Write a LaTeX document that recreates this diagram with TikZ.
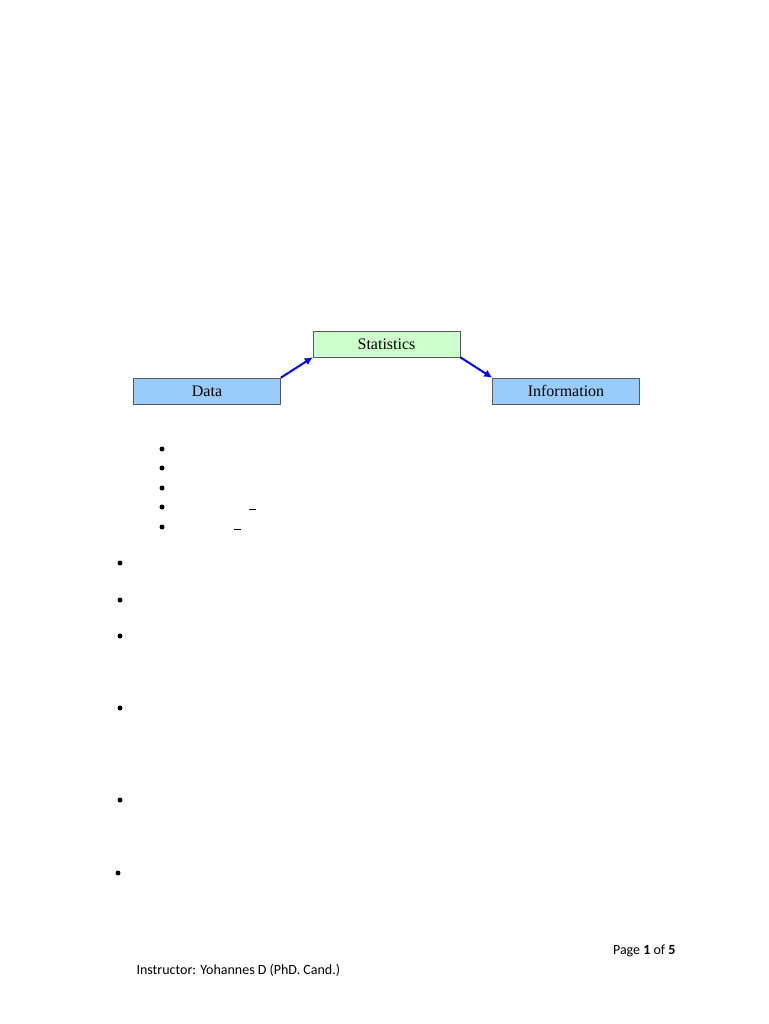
\documentclass[tikz,border=0pt]{standalone}
\usepackage{fontspec}
\usetikzlibrary{arrows.meta}
\setmainfont{Liberation Serif}
\newfontfamily\calfont{Carlito}
\definecolor{boxblue}{RGB}{153,204,250}
\definecolor{boxgreen}{RGB}{204,255,204}
\begin{document}
\begin{tikzpicture}[x=1pt,y=-1pt,
 box/.style={draw=gray!70!black,line width=0.6pt,minimum width=147pt,minimum height=26pt,inner sep=0pt,font=\fontsize{16}{18}\selectfont},
 arr/.style={blue,line width=2pt,-{Latex[length=8pt,width=8pt]}},
 dot/.style={circle,fill=black,inner sep=0pt,minimum size=5pt}]
\useasboundingbox[fill=white] (0,0) rectangle (768,1024);
\node[box,fill=boxblue] (data) at (207,391) {Data};
\node[box,fill=boxgreen] (stat) at (386.5,344) {Statistics};
\node[box,fill=boxblue] (info) at (566,391) {Information};
\draw[arr] (data.north east) -- (stat.south west);
\draw[arr] (stat.south east) -- (info.north west);
\foreach \y [count=\i] in {449,468,488,507,527} \node[dot] (s\i) at (162,\y) {};
\draw[line width=1pt] (249,509) -- (256,509);
\draw[line width=1pt] (234,529) -- (241,529);
\foreach \y [count=\i] in {563,600,636,708,800} \node[dot] (b\i) at (120,\y) {};
\node[dot] (b6) at (118,873) {};
\node[anchor=east,font=\calfont\fontsize{14}{16}\selectfont] (pg) at (679,951) {Page \textbf{1} of \textbf{5}};
\node[anchor=west,font=\calfont\fontsize{14}{16}\selectfont] (ins) at (133,970) {Instructor: Yohannes D (PhD. Cand.)};
\end{tikzpicture}
\end{document}
